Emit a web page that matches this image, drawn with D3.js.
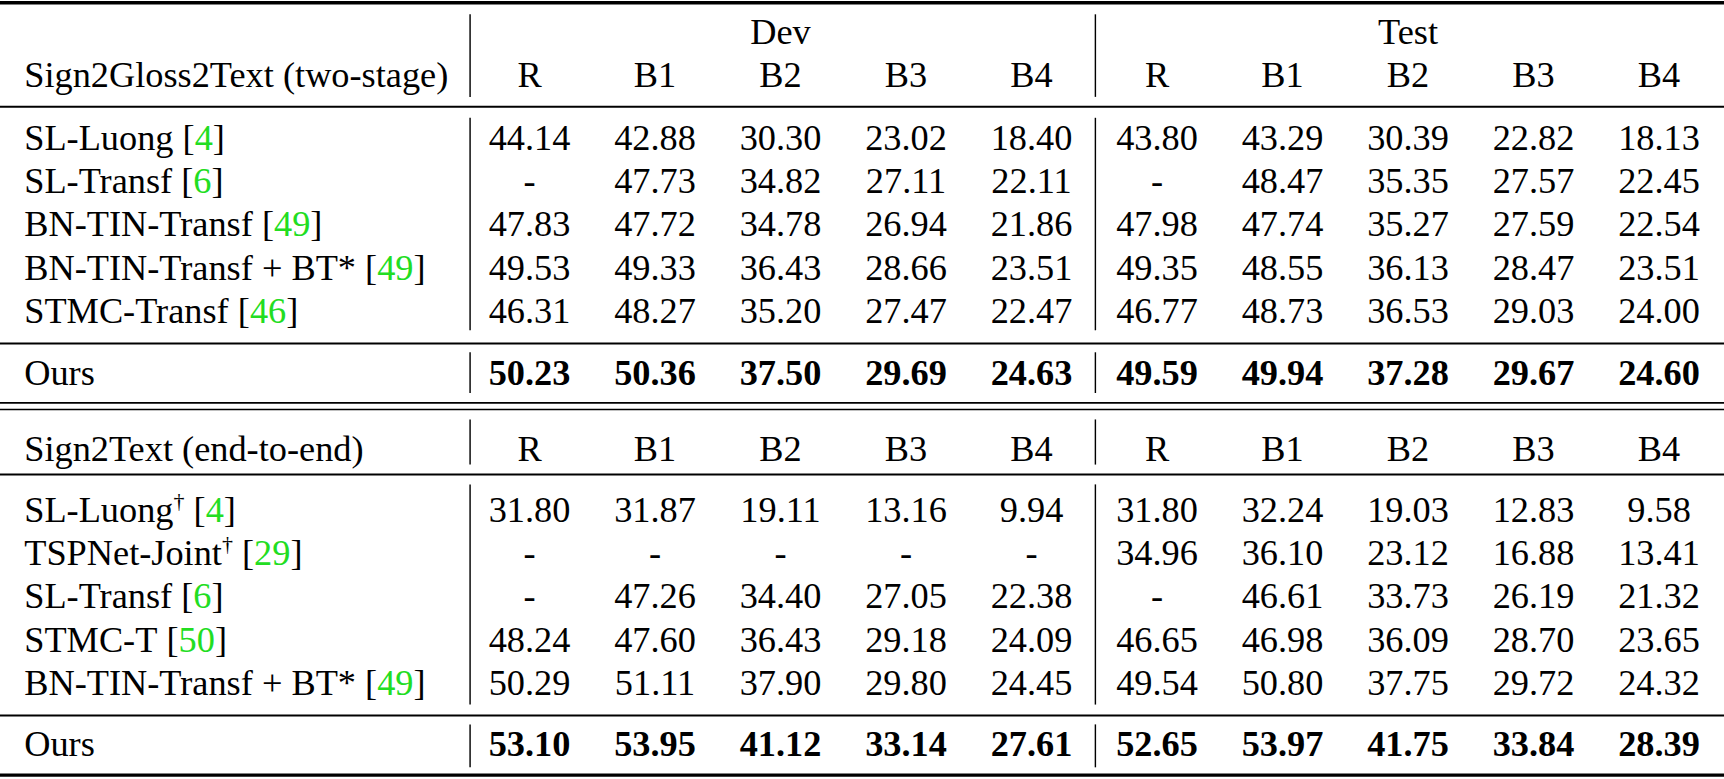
<!DOCTYPE html>
<html><head><meta charset="utf-8">
<script src="https://cdn.jsdelivr.net/npm/d3@7"></script>
<style>body{margin:0;background:#fff}text{font-family:"Liberation Serif","Times New Roman",serif}</style>
</head><body>
<script>
var columns = ['R','B1','B2','B3','B4','R','B1','B2','B3','B4']
var groups = ['Dev','Test']
var methods1 = [['SL-Luong','','4'],['SL-Transf','','6'],['BN-TIN-Transf','','49'],['BN-TIN-Transf + BT*','','49'],['STMC-Transf','','46']]
var values1 = [
  ['44.14','42.88','30.30','23.02','18.40','43.80','43.29','30.39','22.82','18.13'],
  ['-','47.73','34.82','27.11','22.11','-','48.47','35.35','27.57','22.45'],
  ['47.83','47.72','34.78','26.94','21.86','47.98','47.74','35.27','27.59','22.54'],
  ['49.53','49.33','36.43','28.66','23.51','49.35','48.55','36.13','28.47','23.51'],
  ['46.31','48.27','35.20','27.47','22.47','46.77','48.73','36.53','29.03','24.00']]
var ours1 = ['50.23','50.36','37.50','29.69','24.63','49.59','49.94','37.28','29.67','24.60']
var methods2 = [['SL-Luong','†','4'],['TSPNet-Joint','†','29'],['SL-Transf','','6'],['STMC-T','','50'],['BN-TIN-Transf + BT*','','49']]
var values2 = [
  ['31.80','31.87','19.11','13.16','9.94','31.80','32.24','19.03','12.83','9.58'],
  ['-','-','-','-','-','34.96','36.10','23.12','16.88','13.41'],
  ['-','47.26','34.40','27.05','22.38','-','46.61','33.73','26.19','21.32'],
  ['48.24','47.60','36.43','29.18','24.09','46.65','46.98','36.09','28.70','23.65'],
  ['50.29','51.11','37.90','29.80','24.45','49.54','50.80','37.75','29.72','24.32']]
var ours2 = ['53.10','53.95','41.12','33.14','27.61','52.65','53.97','41.75','33.84','28.39']

var k = 1724 / 1566
var svg = d3.select('body').append('svg').attr('width', 1724).attr('height', 779)
var g = svg.append('g').attr('transform', 'scale(' + k + ')')
var x = d3.scalePoint().domain(d3.range(10)).range([481, 1507])
var fs = 33, green = '#22dd22'
var vx = [427, 995]

function hline(y, w) {
  g.append('line').attr('x1', 0).attr('x2', 1566).attr('y1', y).attr('y2', y)
    .attr('stroke', '#000').attr('stroke-width', w)
}
function vlines(y0, y1) {
  vx.forEach(function (v) {
    g.append('line').attr('x1', v).attr('x2', v).attr('y1', y0).attr('y2', y1)
      .attr('stroke', '#000').attr('stroke-width', 1.3)
  })
}
function label(y, m) {
  var t = g.append('text').attr('x', 22).attr('y', y).attr('font-size', fs)
  t.append('tspan').text(m[0])
  if (m[1]) t.append('tspan').attr('font-size', 20).attr('dy', -13).text(m[1])
  if (m[2]) {
    t.append('tspan').attr('dy', m[1] ? 13 : 0).text(' [')
    t.append('tspan').attr('fill', green).text(m[2])
    t.append('tspan').text(']')
  }
}
function cells(y, vals, bold) {
  g.selectAll(null).data(vals).enter().append('text')
    .attr('x', function (d, i) { return x(i) }).attr('y', y)
    .attr('text-anchor', 'middle').attr('font-size', fs)
    .attr('font-weight', bold ? 'bold' : 'normal').text(function (d) { return d })
}
function rowBlock(y0, methods, values) {
  methods.forEach(function (m, i) {
    var y = y0 + i * 39.3
    label(y, m); cells(y, values[i])
  })
}

hline(2.5, 3)
vlines(13, 88)
g.selectAll(null).data(groups).enter().append('text')
  .attr('x', function (d, i) { return (x(i * 5) + x(i * 5 + 4)) / 2 }).attr('y', 40)
  .attr('text-anchor', 'middle').attr('font-size', fs).text(function (d) { return d })
g.append('text').attr('x', 22).attr('y', 79).attr('font-size', fs).text('Sign2Gloss2Text (two-stage)')
cells(79, columns)
hline(97, 1.8)
vlines(107, 300)
rowBlock(136, methods1, values1)
hline(312, 1.8)
vlines(320, 357)
label(350, ['Ours', '', ''])
cells(350, ours1, true)
hline(366, 1.5); hline(372, 1.5)
vlines(381, 422)
g.append('text').attr('x', 22).attr('y', 419).attr('font-size', fs).text('Sign2Text (end-to-end)')
cells(419, columns)
hline(431, 1.8)
vlines(440, 640)
rowBlock(474, methods2, values2)
hline(650, 1.8)
vlines(658, 697)
label(687, ['Ours', '', ''])
cells(687, ours2, true)
hline(704, 3)
</script>
</body></html>
